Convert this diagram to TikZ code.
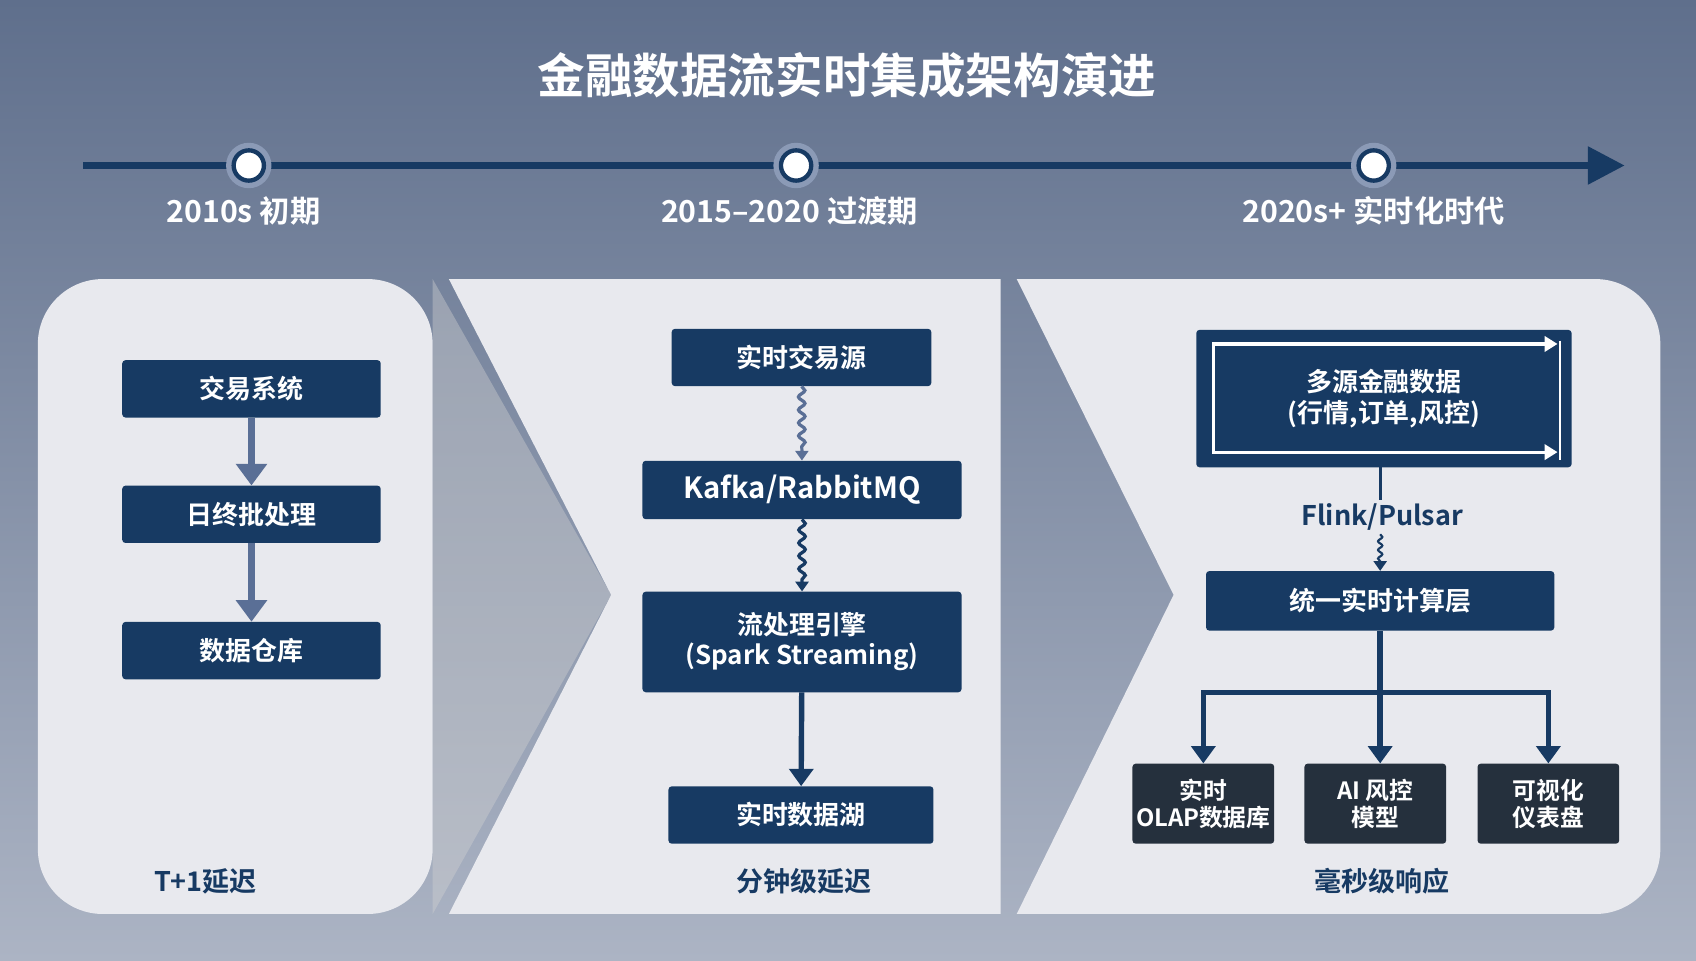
\documentclass[tikz,border=0pt]{standalone}
\usepackage{fontspec}
\setmainfont{Noto Sans CJK SC}[BoldFont={* Bold}]
\usetikzlibrary{arrows.meta,decorations.pathmorphing,shadows}
\definecolor{navy}{HTML}{173A63}
\definecolor{dark}{HTML}{25303D}
\definecolor{panel}{HTML}{E8E9EE}
\definecolor{soft}{HTML}{5A6F96}
\tikzset{
  bx/.style={fill=navy,rounded corners=3pt,text=white,font=\bfseries\fontsize{24}{28}\selectfont,align=center,inner sep=0pt},
  dbx/.style={fill=dark,rounded corners=3pt,text=white,font=\bfseries\fontsize{22}{25}\selectfont,align=center,inner sep=0pt,minimum width=131pt,minimum height=74pt},
  lat/.style={text=navy,font=\bfseries\fontsize{25}{28}\selectfont},
  yr/.style={text=white,font=\bfseries\fontsize{28}{32}\selectfont},
  softarr/.style={draw=soft,line width=6pt,-{Triangle[length=20pt,width=28pt]}},
  darr/.style={draw=navy,line width=5pt,-{Triangle[length=16pt,width=22pt]}},
  wavy/.style={draw=soft,line width=3pt,decorate,decoration={snake,amplitude=3pt,segment length=12pt,post length=8pt},-{Triangle[length=9pt,width=12pt]}}
}
\begin{document}
\begin{tikzpicture}[x=1pt,y=-1pt]
\useasboundingbox (0,0) rectangle (1568,888);
\shade[top color={rgb,255:red,95;green,111;blue,140},bottom color={rgb,255:red,172;green,180;blue,196}] (0,0) rectangle (1568,888);
\node[text=white,font=\bfseries\fontsize{44}{50}\selectfont] (title) at (783,70) {金融数据流实时集成架构演进};
% timeline
\coordinate (tl0) at (77,153);
\coordinate (tl1) at (1502,153);
\draw[navy,line width=6pt,-{Triangle[length=34pt,width=34pt]}] (tl0) -- (tl1);
\foreach \n/\x in {c1/230,c2/736,c3/1270}{
  \fill[soft!70] (\x,153) circle (21);
  \node[circle,fill=white,draw=navy,line width=4pt,minimum size=28pt,inner sep=0pt] (\n) at (\x,153) {};
}
\node[yr] (y1) at (225,195) {2010s 初期};
\node[yr] (y2) at (730,195) {2015–2020 过渡期};
\node[yr] (y3) at (1270,195) {2020s+ 实时化时代};
% panels
\fill[gray!35,opacity=0.4] (400,258) -- (565,550) -- (400,845) -- cycle;
\fill[panel,rounded corners=60pt] (35,258) rectangle (400,845);
\fill[panel] (415,258) -- (925,258) -- (925,845) -- (415,845) -- (565,550) -- cycle;
\fill[panel] (1085,550) -- (940,258) [rounded corners=60pt] -- (1535,258) -- (1535,845) [sharp corners] -- (940,845) -- cycle;
% panel 1
\node[bx,minimum width=239pt,minimum height=53pt] (a1) at (232.5,359.5) {交易系统};
\node[bx,minimum width=239pt,minimum height=53pt] (a2) at (232.5,475.5) {日终批处理};
\node[bx,minimum width=239pt,minimum height=53pt] (a3) at (232.5,601.5) {数据仓库};
\draw[softarr] (a1) -- (a2);
\draw[softarr] (a2) -- (a3);
\node[lat] (l1) at (190,815) {T+1延迟};
% panel 2
\node[bx,minimum width=240pt,minimum height=53pt] (b1) at (741,330.5) {实时交易源};
\node[bx,minimum width=295pt,minimum height=54pt,font=\bfseries\fontsize{27}{30}\selectfont] (b2) at (741.5,453) {Kafka/RabbitMQ};
\node[bx,minimum width=295pt,minimum height=93pt] (b3) at (741.5,593.5) {流处理引擎\\(Spark Streaming)};
\node[bx,minimum width=245pt,minimum height=53pt] (b4) at (740.5,753.5) {实时数据湖};
\draw[wavy] (b1) -- (b2);
\draw[wavy,draw=navy] (b2) -- (b3);
\draw[darr] (b3) -- (b4);
\node[lat] (l2) at (743,815) {分钟级延迟};
% panel 3
\node[bx,minimum width=347pt,minimum height=127pt] (c0) at (1279.5,368.5) {多源金融数据\\(行情,订单,风控)};
\coordinate (fa) at (1440,318);
\coordinate (fb) at (1122,318);
\coordinate (fc) at (1122,418);
\coordinate (fd) at (1440,418);
\draw[white,line width=3pt,{Triangle[length=12pt,width=14pt]}-{Triangle[length=12pt,width=14pt]}] (fa) -- (fb) -- (fc) -- (fd);
\draw[white,line width=2pt] (1442,315) -- (1442,425);
\node[text=navy,font=\bfseries\fontsize{25}{28}\selectfont] (fl) at (1278,478) {Flink/Pulsar};
\node[bx,minimum width=322pt,minimum height=55pt] (c1) at (1276,555.5) {统一实时计算层};
\draw[navy,line width=3pt] (c0.south -| 1276,0) -- (fl.north -| 1276,0);
\draw[wavy,draw=navy,line width=2pt,decoration={snake,amplitude=2pt,segment length=8pt,post length=5pt}] (fl.south -| 1276,0) -- (c1.north -| 1276,0);
\node[dbx] (d1) at (1112.5,743) {实时\\OLAP数据库};
\node[dbx] (d2) at (1271.5,743) {AI 风控\\模型};
\node[dbx] (d3) at (1431.5,743) {可视化\\仪表盘};
\coordinate (j) at (1276,640);
\draw[navy,line width=5pt] (c1.south -| j) -- (j);
\draw[darr] (j) -| (d1.north);
\draw[darr] (j) -- (j |- d2.north);
\draw[darr] (j) -| (d3.north);
\node[lat] (l3) at (1278,815) {毫秒级响应};
\end{tikzpicture}
\end{document}
